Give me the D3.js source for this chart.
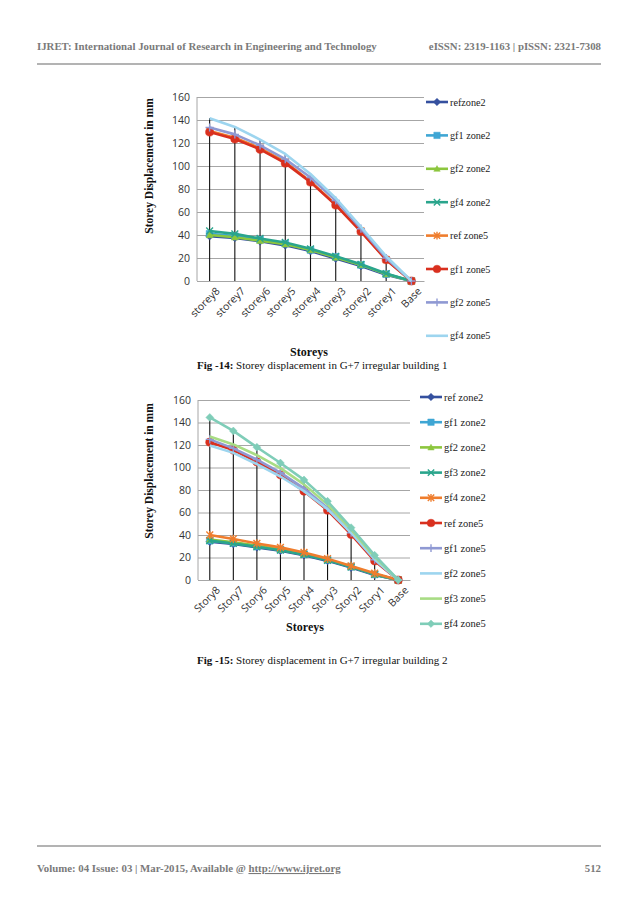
<!DOCTYPE html>
<html>
<head>
<meta charset="utf-8">
<script src="https://cdn.jsdelivr.net/npm/d3@7"></script>
<style>
  body { margin: 0; background: #fff; }
  svg { display: block; }
</style>
</head>
<body>
<svg id="page" width="638" height="903"></svg>
<script>
// ---- data ----
let storeys1 = ['storey8', 'storey7', 'storey6', 'storey5', 'storey4', 'storey3', 'storey2', 'storey1', 'Base'];
let storeys2 = ['Story8', 'Story7', 'Story6', 'Story5', 'Story4', 'Story3', 'Story2', 'Story1', 'Base'];
let yTicks = [0, 20, 40, 60, 80, 100, 120, 140, 160];

// Fig 14
let names1 = ['refzone2', 'gf1 zone2', 'gf2 zone2', 'gf4 zone2', 'ref zone5', 'gf1 zone5', 'gf2 zone5', 'gf4 zone5'];
let refZone2a = [39, 37.5, 34.5, 31, 26, 19.5, 13, 5.5, 0];
let gf1Zone2a = [41, 39, 36, 32.5, 27, 21, 14, 6, 0];
let gf2Zone2a = [40, 38, 35, 32, 27, 20.5, 14, 6, 0];
let gf4Zone2a = [43.5, 41, 37, 33.5, 28, 21.5, 14.5, 6.5, 0];
let refZone5a = [130.5, 124.5, 115.5, 103.5, 86.5, 66.5, 43.5, 18.5, 0];
let gf1Zone5a = [129.5, 123.5, 114.5, 102.5, 86, 66, 43, 18.5, 0];
let gf2Zone5a = [133.5, 127.5, 118, 106, 90, 70, 45.5, 20, 0];
let gf4Zone5a = [141.5, 134, 123, 110.5, 93, 72, 47, 21.5, 0];

// Fig 15
let names2 = ['ref zone2', 'gf1 zone2', 'gf2 zone2', 'gf3 zone2', 'gf4 zone2', 'ref zone5', 'gf1 zone5', 'gf2 zone5', 'gf3 zone5', 'gf4 zone5'];
let refZone2b = [34, 32, 29, 26, 22, 17, 11, 4.5, 0];
let gf1Zone2b = [35, 33, 30, 27, 23, 18, 12, 5, 0];
let gf2Zone2b = [36, 33.5, 30.5, 27, 23, 18, 12, 5, 0];
let gf3Zone2b = [35, 32.5, 29.5, 26.5, 22.5, 17.5, 11.5, 5, 0];
let gf4Zone2b = [40, 36.5, 32.5, 29, 24.5, 19, 12.5, 6, 0];
let refZone5b = [122.5, 115.5, 105, 93.5, 79, 62, 40.5, 17, 0];
let gf1Zone5b = [125, 117, 107, 95.5, 81.5, 64, 42, 18, 0];
let gf2Zone5b = [119.5, 113, 103, 92, 79, 63, 42, 18.5, 0];
let gf3Zone5b = [127.5, 120.5, 111, 99.5, 85, 67, 45, 20.5, 0];
let gf4Zone5b = [144.5, 132.5, 118, 104, 89, 70, 46.5, 22, 0];

// ---- styles ----
let colors1 = ['#35509f', '#3fa6d4', '#8cc63e', '#2aa58c', '#ef7d2d', '#d9301f', '#8f99d3', '#9dd5ef'];
let markers1 = ['diamond', 'square', 'triangle', 'x', 'asterisk', 'circle', 'plus', 'none'];
let colors2 = ['#35509f', '#3fa6d4', '#8cc63e', '#2aa58c', '#ef7d2d', '#d9301f', '#8f99d3', '#9dd5ef', '#a8dc84', '#7fcdb8'];
let markers2 = ['diamond', 'square', 'triangle', 'x', 'asterisk', 'circle', 'plus', 'none', 'none', 'diamond'];

let svg = d3.select('#page');
let serif = '"Liberation Serif", "Times New Roman", serif';
let sans = '"Open Sans", "Liberation Sans", sans-serif';

// ---- page header / footer ----
svg.append('text')
    .attr('x', 37).attr('y', 50)
    .attr('font-family', serif).attr('font-weight', 'bold').attr('font-size', 10.8)
    .attr('fill', '#7a7a7a')
    .text('IJRET: International Journal of Research in Engineering and Technology');
svg.append('text')
    .attr('x', 601).attr('y', 50).attr('text-anchor', 'end')
    .attr('font-family', serif).attr('font-weight', 'bold').attr('font-size', 10.8)
    .attr('fill', '#7a7a7a')
    .text('eISSN: 2319-1163 | pISSN: 2321-7308');
svg.append('line')
    .attr('x1', 37).attr('x2', 601).attr('y1', 64).attr('y2', 64)
    .attr('stroke', '#9a9a9a').attr('stroke-width', 1.5);

svg.append('line')
    .attr('x1', 37).attr('x2', 601).attr('y1', 846).attr('y2', 846)
    .attr('stroke', '#9a9a9a').attr('stroke-width', 1.5);
let foot = svg.append('text')
    .attr('x', 37).attr('y', 872)
    .attr('font-family', serif).attr('font-weight', 'bold').attr('font-size', 10.8)
    .attr('fill', '#7a7a7a');
foot.append('tspan').text('Volume: 04 Issue: 03 | Mar-2015, Available @ ');
foot.append('tspan').attr('text-decoration', 'underline').text('http://www.ijret.org');
svg.append('text')
    .attr('x', 601).attr('y', 872).attr('text-anchor', 'end')
    .attr('font-family', serif).attr('font-weight', 'bold').attr('font-size', 10.8)
    .attr('fill', '#7a7a7a')
    .text('512');

// marker paths centred on 0,0
function markerPath(type, r) {
    switch (type) {
        case 'diamond':
            return 'M0,' + -r * 1.15 + 'L' + r * 1.15 + ',0L0,' + r * 1.15 + 'L' + -r * 1.15 + ',0Z';
        case 'square':
            return 'M' + -r + ',' + -r + 'h' + 2 * r + 'v' + 2 * r + 'h' + -2 * r + 'Z';
        case 'triangle':
            return 'M0,' + -r + 'L' + r + ',' + r * 0.8 + 'L' + -r + ',' + r * 0.8 + 'Z';
        case 'circle':
            return d3.arc()({innerRadius: 0, outerRadius: r * 1.2, startAngle: 0, endAngle: 2 * Math.PI});
        case 'x':
            return 'M' + -r + ',' + -r + 'L' + r + ',' + r + 'M' + -r + ',' + r + 'L' + r + ',' + -r;
        case 'plus':
            return 'M' + -r * 1.2 + ',0L' + r * 1.2 + ',0M0,' + -r * 1.2 + 'L0,' + r * 1.2;
        case 'asterisk':
            return 'M' + -r + ',' + -r + 'L' + r + ',' + r + 'M' + -r + ',' + r + 'L' + r + ',' + -r +
                'M0,' + -r * 1.2 + 'L0,' + r * 1.2;
        default:
            return null;
    }
}

let filledMarkers = ['diamond', 'square', 'triangle', 'circle'];

function drawMarker(g, type, cx, cy, r, color) {
    let p = markerPath(type, r);
    if (!p) return;
    let filled = filledMarkers.indexOf(type) >= 0;
    g.append('path')
        .attr('transform', 'translate(' + cx + ',' + cy + ')')
        .attr('d', p)
        .attr('fill', filled ? color : 'none')
        .attr('stroke', color)
        .attr('stroke-width', filled ? 0.5 : 1.4);
}

function drawChart(opt) {
    let x = d3.scaleBand()
        .domain(opt.categories)
        .range([opt.left, opt.right]);
    let y = d3.scaleLinear()
        .domain([0, 160])
        .range([opt.bottom, opt.top]);

    let g = svg.append('g');

    // horizontal gridlines
    g.append('g')
        .attr('transform', 'translate(' + opt.left + ',0)')
        .call(d3.axisLeft(y).tickValues(yTicks).tickSize(-(opt.right - opt.left)).tickPadding(7))
        .call(function(a) {
            a.select('.domain').remove();
            a.selectAll('.tick line').attr('stroke', '#a6a6a6').attr('stroke-width', 1);
            a.selectAll('.tick text')
                .attr('font-family', sans).attr('font-size', 10.5).attr('fill', '#333');
        });

    // left axis line
    g.append('line')
        .attr('x1', opt.left).attr('x2', opt.left)
        .attr('y1', y(160)).attr('y2', y(0))
        .attr('stroke', '#a6a6a6');

    // category axis
    g.append('g')
        .attr('transform', 'translate(0,' + y(0) + ')')
        .call(d3.axisBottom(x).tickSize(0).tickPadding(6))
        .call(function(a) {
            a.select('.domain').attr('stroke', '#a6a6a6');
            a.selectAll('.tick text')
                .attr('font-family', sans).attr('font-size', 10.5).attr('fill', '#333')
                .attr('text-anchor', 'end')
                .attr('dy', '0.35em')
                .attr('transform', 'translate(4,4) rotate(-45)');
        });

    // drop lines: from the highest point of each category down to the axis
    opt.categories.forEach(function(c, i) {
        let top = d3.max(opt.series, function(s) { return s[i]; });
        g.append('line')
            .attr('x1', x(c) + x.bandwidth() / 2).attr('x2', x(c) + x.bandwidth() / 2)
            .attr('y1', y(top)).attr('y2', y(0))
            .attr('stroke', '#111').attr('stroke-width', 1.1);
    });

    let line = d3.line()
        .x(function(d, i) { return x(opt.categories[i]) + x.bandwidth() / 2; })
        .y(function(d) { return y(d); });

    opt.series.forEach(function(values, k) {
        let color = opt.colors[k];
        g.append('path')
            .attr('d', line(values))
            .attr('fill', 'none')
            .attr('stroke', color)
            .attr('stroke-width', 2.6)
            .attr('stroke-linejoin', 'round');

        values.forEach(function(v, i) {
            let cx = x(opt.categories[i]) + x.bandwidth() / 2;
            drawMarker(g, opt.markers[k], cx, y(v), 3.4, color);
        });
    });

    // axis titles
    g.append('text')
        .attr('transform', 'translate(' + opt.yTitleX + ',' + opt.yTitleY + ') rotate(-90)')
        .attr('text-anchor', 'middle')
        .attr('font-family', serif).attr('font-weight', 'bold').attr('font-size', 11.5)
        .attr('fill', '#111')
        .text('Storey Displacement in mm');
    g.append('text')
        .attr('x', opt.xTitleX).attr('y', opt.xTitleY)
        .attr('text-anchor', 'middle')
        .attr('font-family', serif).attr('font-weight', 'bold').attr('font-size', 12)
        .attr('fill', '#111')
        .text('Storeys');

    // legend
    opt.names.forEach(function(name, k) {
        let ly = opt.legendY + k * opt.legendStep;
        let color = opt.colors[k];
        let lg = g.append('g');
        lg.append('line')
            .attr('x1', opt.legendX).attr('x2', opt.legendX + 22)
            .attr('y1', ly).attr('y2', ly)
            .attr('stroke', color).attr('stroke-width', 2.6);
        drawMarker(lg, opt.markers[k], opt.legendX + 11, ly, 3.2, color);
        lg.append('text')
            .attr('x', opt.legendX + 24).attr('y', ly)
            .attr('dy', '0.35em')
            .attr('font-family', serif).attr('font-size', opt.legendFont)
            .attr('fill', '#222')
            .text(name);
    });

    // caption
    let cap = svg.append('text')
        .attr('x', 197).attr('y', opt.captionY)
        .attr('font-family', serif).attr('font-size', 11)
        .attr('fill', '#111');
    cap.append('tspan').attr('font-weight', 'bold').text(opt.captionBold);
    cap.append('tspan').text(opt.caption);
}

drawChart({
    categories: storeys1,
    names: names1,
    series: [refZone2a, gf1Zone2a, gf2Zone2a, gf4Zone2a, refZone5a, gf1Zone5a, gf2Zone5a, gf4Zone5a],
    colors: colors1,
    markers: markers1,
    left: 197, right: 424, top: 97, bottom: 281,
    yTitleX: 153, yTitleY: 166,
    xTitleX: 309, xTitleY: 356,
    legendX: 426, legendY: 102, legendStep: 33.4, legendFont: 10.2,
    captionY: 369,
    captionBold: 'Fig -14:',
    caption: ' Storey displacement in G+7 irregular building 1'
});

drawChart({
    categories: storeys2,
    names: names2,
    series: [refZone2b, gf1Zone2b, gf2Zone2b, gf3Zone2b, gf4Zone2b, refZone5b, gf1Zone5b, gf2Zone5b, gf3Zone5b, gf4Zone5b],
    colors: colors2,
    markers: markers2,
    left: 198, right: 410, top: 400, bottom: 580,
    yTitleX: 153, yTitleY: 471,
    xTitleX: 305, xTitleY: 631,
    legendX: 420, legendY: 397, legendStep: 25.2, legendFont: 10.5,
    captionY: 664,
    captionBold: 'Fig -15:',
    caption: ' Storey displacement in G+7 irregular building 2'
});
</script>
</body>
</html>
